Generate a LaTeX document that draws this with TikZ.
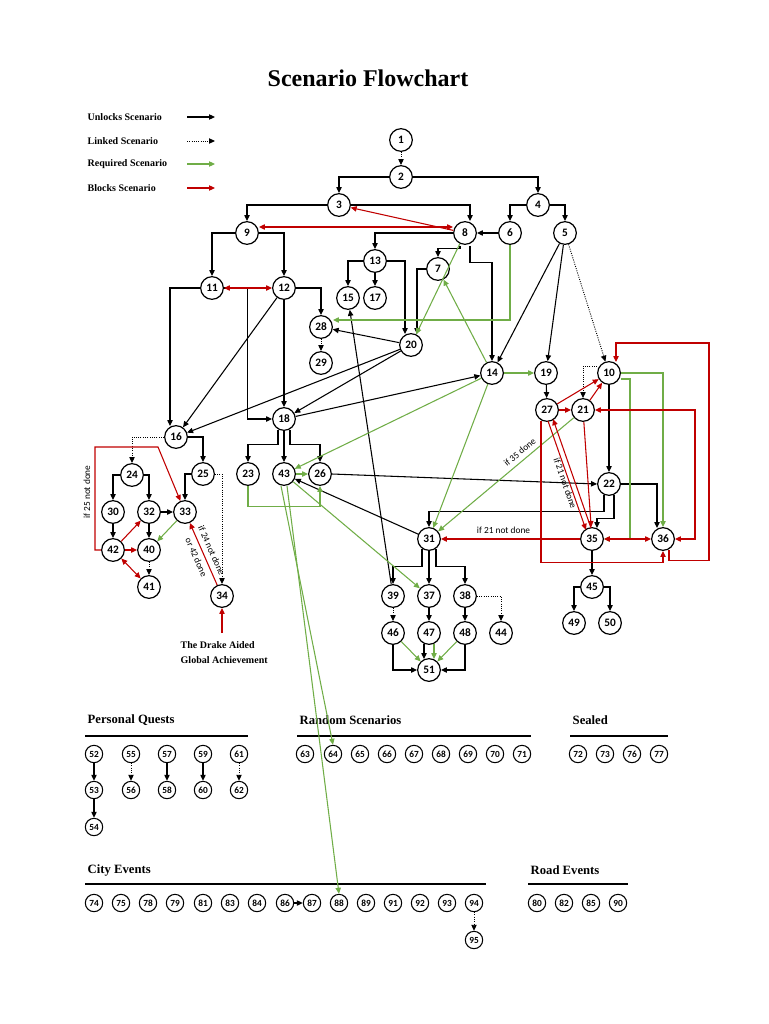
\documentclass[tikz,border=0pt]{standalone}
\usepackage{fontspec}
\setmainfont{Carlito}
\newfontfamily\hdf{Liberation Serif}
\usetikzlibrary{arrows.meta,calc}
\definecolor{grn}{HTML}{70AD47}
\definecolor{rd}{HTML}{C00000}
\begin{document}
\begin{tikzpicture}[x=0.75pt,y=-0.75pt,
 n/.style={circle,draw,line width=0.9pt,inner sep=0pt,minimum size=17pt,font=\bfseries\fontsize{8.5}{9}\selectfont},
 s/.style={circle,draw,line width=0.8pt,inner sep=0pt,minimum size=13pt,font=\bfseries\fontsize{7}{8}\selectfont},
 tip/.style={-{Triangle[length=4.5pt,width=4pt]}},
 unl/.style={tip,line width=0.8pt,black},
 lnk/.style={tip,line width=0.7pt,densely dotted,black},
 req/.style={tip,line width=0.8pt,grn},
 blk/.style={tip,line width=0.8pt,rd},
 bb/.style={{Triangle[length=4.5pt,width=4pt]}-{Triangle[length=4.5pt,width=4pt]}},
 hd/.style={font=\hdf\bfseries\fontsize{9.5}{10}\selectfont,anchor=west},
 lg/.style={font=\hdf\bfseries\fontsize{7.5}{8}\selectfont,anchor=west},
 lab/.style={font=\fontsize{7}{8}\selectfont}]
\useasboundingbox (0,0) rectangle (768,1024);
\node[font=\hdf\bfseries\fontsize{18}{20}\selectfont] (title) at (368,78) {Scenario Flowchart};
% legend
\node[lg] (l1) at (83,117) {Unlocks Scenario};
\node[lg] (l2) at (83,141) {Linked Scenario};
\node[lg] (l3) at (83,164) {Required Scenario};
\node[lg] (l4) at (83,188) {Blocks Scenario};
\coordinate (a1) at (187,117); \coordinate (b1) at (215,117);
\coordinate (a2) at (187,141); \coordinate (b2) at (215,141);
\coordinate (a3) at (187,164); \coordinate (b3) at (215,164);
\coordinate (a4) at (187,188); \coordinate (b4) at (215,188);
\draw[unl] (a1)--(b1); \draw[lnk] (a2)--(b2); \draw[req] (a3)--(b3); \draw[blk] (a4)--(b4);
% main nodes
\foreach \i/\x/\y in {1/401/140,2/401/177,3/339/205,4/538/205,9/247/233,8/465/233,6/510/233,5/565/233,
13/375/261,7/438/269,11/212/288,12/284/288,15/348/298,17/375/298,28/321/327,20/411/345,29/321/363,
14/492/373,19/546/373,10/609/373,18/284/419,27/547/410,21/583/410,16/176/437,
24/132/475,25/203/474,23/248/474,43/284/474,26/320/474,22/609/484,
30/113/512,32/149/512,33/185/512,31/429/539,35/592/539,36/663/539,42/113/550,40/149/550,41/149/587,
34/222/596,45/592/587,39/393/596,37/429/596,38/465/596,49/574/623,50/610/623,
46/393/633,47/429/633,48/465/633,44/501/633,51/429/670}
  \node[n] (\i) at (\x,\y) {\i};
% small nodes
\foreach \i/\x/\y in {52/94/754,55/131/754,57/167/754,59/203/754,61/239/754,53/94/790,56/131/790,58/167/790,60/203/790,62/239/790,54/94/827,
63/305/754,64/333/754,65/360/754,66/387/754,67/414/754,68/441/754,69/468/754,70/495/754,71/522/754,
72/578/754,73/605/754,76/632/754,77/659/754,
74/94/903,75/121/903,78/148/903,79/175/903,81/203/903,83/230/903,84/257/903,86/285/903,87/312/903,88/339/903,89/366/903,91/393/903,92/420/903,93/447/903,94/474/903,95/474/940,
80/537/903,82/564/903,85/591/903,90/618/903}
  \node[s] (\i) at (\x,\y) {\i};
% section headings
\node[hd] (pq) at (83,720) {Personal Quests};
\node[hd] (rs) at (295,720) {Random Scenarios};
\node[hd] (se) at (568,720) {Sealed};
\node[hd] (ce) at (83,870) {City Events};
\node[hd] (re) at (526,870) {Road Events};
\draw[line width=1.2pt] (85,736)--(248,736) (297,736)--(531,736) (570,736)--(668,736) (85,884)--(486,884) (528,884)--(628,884);
\draw[unl] (52)--(53); \draw[unl] (53)--(54); \draw[lnk] (55)--(56); \draw[unl] (57)--(58); \draw[unl] (59)--(60); \draw[lnk] (61)--(62);
\draw[unl] (86)--(87); \draw[lnk] (94)--(95);
% black unlocks
\draw[lnk] (1)--(2);
\draw[unl] (2) -| (3); \draw[unl] (2) -| (4);
\draw[unl] (3) -| (9);
\draw[unl] (3.east) -| ($(8.north)+(5,0)$);
\draw[unl] (4) -| (6); \draw[unl] (4) -| (5);
\draw[unl] (6)--(8);
\draw[unl] (8) -| (13);
\draw[unl] ($(8.south)+(-5,1)$) -- ++(0,3) -| (7);
\draw[unl] ($(8.south)+(5,1)$) -- ++(0,17) -| (14);
\draw[unl] (13) -| (15); \draw[unl] (13)--(17);
\draw[unl] (13) -| ($(20.north)+(-6,1)$);
\draw[unl] (7) -| ($(20.north)+(6,1)$);
\draw[unl] (9) -| (11); \draw[unl] (9) -| (12);
\draw[unl] (11) -| ($(16.north)+(-6,1)$);
\draw[unl] (11.east) -- ++(24,0) |- (18);
\draw[unl] (12)--(16); \draw[unl] (12)--(18); \draw[unl] (12) -| (28);
\draw[lnk] (28)--(29);
\draw[unl] (20)--(28); \draw[unl] (20)--(16); \draw[unl] (20)--(18);
\draw[unl] (18)--(14); \draw[unl] (39)--(15);
\draw[unl] (5)--(14); \draw[unl] (5)--(19); \draw[lnk] (5)--(10);
\draw[unl] (19)--(27); \draw[unl] (10)--(22);
\draw[lnk] ($(10.west)+(0,-7)$) -| (21);
\draw[unl] (22) -| ($(36.north)+(-6,1)$);
\draw[unl] ($(22.south)+(-5,-1)$) -- ++(0,17) -| (31);
\draw[unl] ($(22.south)+(5,-1)$) -- ++(0,24) -| ($(35.north)+(5,1)$);
\draw[unl] (26.east)--(22.west);
\draw[unl] (31)--(43);
\draw[unl] ($(31.south)+(-7,-2)$) -- ++(0,18) -| (39);
\draw[unl] (31)--(37);
\draw[unl] ($(31.south)+(7,-2)$) -- ++(0,18) -| (38);
\draw[lnk] (38) -| (44);
\draw[lnk] (39)--(46); \draw[unl] (37)--(47); \draw[unl] (38)--(48);
\draw[unl] (46) |- (51); \draw[unl] (48) |- (51);
\draw[unl] ($(47.south)+(-5,-1)$) -- ($(51.north)+(-5,1)$);
\draw[unl] (35)--(45); \draw[unl] (45) -| (49); \draw[unl] (45) -| (50);
\draw[unl] ($(18.south)+(-6,-1)$) -- ++(0,15) -| (23);
\draw[unl] (18)--(43);
\draw[unl] ($(18.south)+(6,-1)$) -- ++(0,15) -| (26);
\draw[lnk] (16) -| (24); \draw[unl] (16) -| (25);
\draw[unl] (24) -| (30); \draw[unl] (24) -| (32);
\draw[unl] (25) -| (33); \draw[lnk] (25) -| (34);
\draw[unl] (30)--(42); \draw[unl] (32)--(40); \draw[unl] (32)--(33); \draw[lnk] (40)--(41);
% green required
\draw[req] (43)--(26);
\draw[req] (23.south) -- ++(0,21) -| (26.south);
\draw[req] (33)--(40);
\draw[req] ($(47.south)+(5,-1)$) -- ($(51.north)+(5,1)$);
\draw[req] (46)--(51); \draw[req] (48)--(51);
\draw[req] (8)--(20);
\draw[req] (6) |- ($(28.east)+(0,-7)$);
\draw[req] (14)--(7); \draw[req] (14)--(19); \draw[req] (14)--(43); \draw[req] (14)--(31);
\draw[req] (21)--(31) node[lab,pos=0.36,sloped,above,text=black] {if 35 done};
\draw[req] (43)--(37);
\draw[req] ($(43.south)+(-3,0)$)--(64.north);
\draw[req] ($(43.south)+(3,0)$)--(88.north);
\draw[req] (10) -| (36);
\draw[req] ($(10.east)+(0,6)$) -- (630,379) |- (35);
% red blocks
\draw[blk,bb] (11)--(12);
\draw[blk,bb] ($(9.east)+(0,-6)$) -- ($(8.west)+(0,-6)$);
\draw[blk] (8)--(3);
\draw[blk] (27)--(10); \draw[blk] (21)--(10); \draw[blk] (27)--(21);
\draw[blk,shorten <=8pt,shorten >=8pt] ($(27)!2pt!-90:(35)$) -- ($(35)!2pt!90:(27)$);
\draw[blk,shorten <=8pt,shorten >=8pt] ($(35)!2pt!-90:(27)$) -- ($(27)!2pt!90:(35)$)
  node[lab,pos=0.45,sloped,below=1pt,text=black] {if 21 not done};
\draw[blk] (21)--(35);
\draw[blk] (35)--(31) node[lab,pos=0.55,above,text=black] {if 21 not done};
\draw[blk,bb] (35)--(36);
\draw[blk] ($(27.south)+(-6,-1)$) |- ($(36.south)+(0,12)$) -- (36.south);
\draw[blk] ($(36.south)+(6,-1)$) -- ++(0,11) -| (709,343) -| ($(10.north)+(7,1)$);
\draw[blk,bb] (21) -- (695,410) |- (36);
\draw[blk,bb] (42)--(41);
\draw[blk] (42)--(32); \draw[blk] (42)--(40);
\draw[blk] (42.west) -- (95,550) |- (158,447) -- (33);
\node[lab,rotate=90] (c25) at (87,492) {if 25 not done};
\draw[blk] (34)--(33);
\node[font=\fontsize{7}{12.5}\selectfont,rotate=-66,align=center,inner sep=0pt] (c24) at (204,554) {if 24 not done\\or 42 done};
\node[font=\hdf\bfseries\fontsize{7.5}{11}\selectfont,align=left,anchor=north west] (drake) at (176,637) {The Drake Aided\\Global Achievement};
\coordinate (dk) at (222,633);
\draw[blk] (dk)--(34);
\end{tikzpicture}
\end{document}
